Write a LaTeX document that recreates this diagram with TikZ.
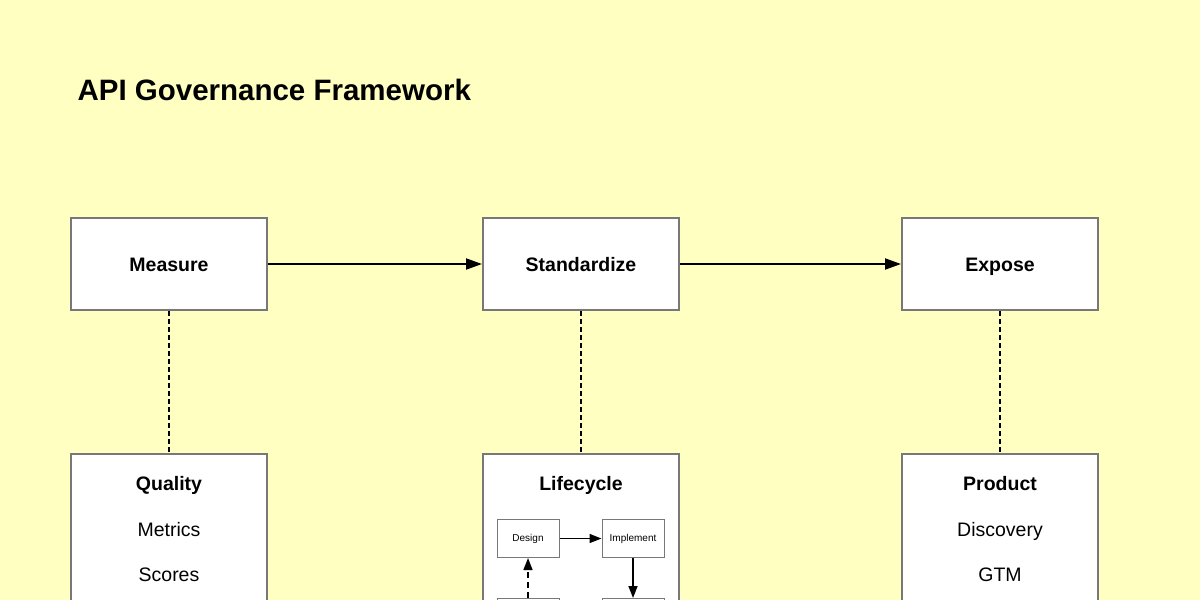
\documentclass[tikz,border=0pt]{standalone}
\usepackage{fontspec}
\setmainfont{Liberation Sans}
\usetikzlibrary{arrows.meta, positioning}
\definecolor{govyellow}{RGB}{255,255,193}
\definecolor{govgray}{RGB}{120,120,120}

\begin{document}
\begin{tikzpicture}[x=1pt, y=-1pt,
  stage/.style={draw=govgray, line width=2pt, fill=white, minimum width=196pt, minimum height=92pt, inner sep=0pt, text height=15pt, text depth=0pt, font=\fontsize{19.5}{22}\selectfont\bfseries},
  detail/.style={draw=govgray, line width=2pt, fill=white, minimum width=196pt, minimum height=260pt, inner sep=0pt, anchor=north},
  head/.style={anchor=base, font=\fontsize{19.5}{22}\selectfont\bfseries},
  item/.style={anchor=base, font=\fontsize{19.5}{22}\selectfont},
  phase/.style={draw=govgray, line width=1pt, fill=white, minimum width=62pt, minimum height=38pt, inner sep=0pt, font=\fontsize{10}{12}\selectfont},
  flow/.style={line width=2pt, -{Triangle[length=16pt, width=11pt]}},
  link/.style={line width=1.4pt, dash pattern=on 5pt off 3pt},
  cycle/.style={line width=1.6pt, -{Triangle[length=12pt, width=9pt]}}
]
\useasboundingbox (0,0) rectangle (1200,600);
\clip (0,0) rectangle (1200,600);
\fill[govyellow] (0,0) rectangle (1200,600);

\node[anchor=base west, font=\fontsize{29.5}{34}\selectfont\bfseries] (title) at (74,100) {API Governance Framework};

\node[stage] (measure) at (169,264) {Measure};
\node[stage] (standardize) at (581,264) {Standardize};
\node[stage] (expose) at (1000,264) {Expose};

\node[detail] (quality) at (169,453) {};
\node[detail] (lifecycle) at (581,453) {};
\node[detail] (product) at (1000,453) {};

\node[head] (qualityT) at (169,490) {Quality};
\node[item] (metrics) at (169,536) {Metrics};
\node[item] (scores) at (169,581) {Scores};

\node[head] (lifecycleT) at (581,490) {Lifecycle};
\node[phase] (design) at (528,538.5) {Design};
\node[phase] (implement) at (633,538.5) {Implement};
\node[phase] (phaseC) at (633,617.5) {};
\node[phase] (phaseD) at (528,617.5) {};

\node[head] (productT) at (1000,490) {Product};
\node[item] (discovery) at (1000,536) {Discovery};
\node[item] (gtm) at (1000,581) {GTM};

\draw[flow] (measure) -- (standardize);
\draw[flow] (standardize) -- (expose);

\draw[link] (measure) -- (quality);
\draw[link] (standardize) -- (lifecycle);
\draw[link] (expose) -- (product);

\draw[cycle] (design) -- (implement);
\draw[cycle] (implement) -- (phaseC);
\draw[cycle, dash pattern=on 6pt off 4pt] (phaseD) -- (design);
\end{tikzpicture}
\end{document}
